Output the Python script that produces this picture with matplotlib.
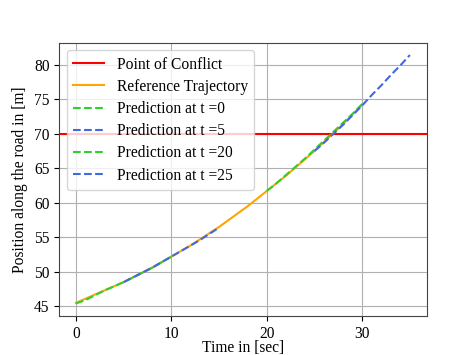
import matplotlib
matplotlib.use("Agg")
import matplotlib.pyplot as plt

# position along the road [m]
conflict_pos = 70.0

ref_t = list(range(0, 31))
ref_pos = [45.5, 46.1, 46.7, 47.3, 47.9, 48.5, 49.2, 49.9, 50.6, 51.4,
           52.2, 53.0, 53.8, 54.7, 55.6, 56.5, 57.5, 58.5, 59.5, 60.6,
           61.7, 62.8, 63.9, 65.1, 66.3, 67.5, 68.8, 70.1, 71.4, 72.8, 74.2]

pred0_t = list(range(0, 11))
pred0_pos = [45.4, 45.9, 46.6, 47.3, 47.9, 48.5, 49.2, 49.9, 50.6, 51.4, 52.2]

pred5_t = list(range(5, 16))
pred5_pos = [48.5, 49.2, 49.9, 50.6, 51.4, 52.2, 53.0, 53.8, 54.6, 55.5, 56.4]

pred20_t = list(range(20, 31))
pred20_pos = [61.7, 62.8, 64.0, 65.2, 66.4, 67.7, 69.0, 70.3, 71.6, 72.9, 74.3]

pred25_t = list(range(25, 36))
pred25_pos = [67.5, 68.7, 70.0, 71.3, 72.7, 74.1, 75.6, 77.0, 78.5, 79.9, 81.4]

plt.rcParams["font.family"] = ["Liberation Serif", "DejaVu Serif"]
plt.rcParams["font.size"] = 11.2

fig, ax = plt.subplots(figsize=(4.74, 3.55), dpi=100)
ax.axhline(conflict_pos, color="red", lw=1.5, label="Point of Conflict")
ax.plot(ref_t, ref_pos, color="orange", lw=1.5, label="Reference Trajectory")
ax.plot(pred0_t, pred0_pos, color="limegreen", ls="--", lw=1.5, label="Prediction at t =0")
ax.plot(pred5_t, pred5_pos, color="royalblue", ls="--", lw=1.5, label="Prediction at t =5")
ax.plot(pred20_t, pred20_pos, color="limegreen", ls="--", lw=1.5, label="Prediction at t =20")
ax.plot(pred25_t, pred25_pos, color="royalblue", ls="--", lw=1.5, label="Prediction at t =25")

ax.set_xlabel("Time in [sec]", labelpad=-1.5)
ax.set_ylabel("Position along the road in [m]")
ax.set_xticks([0, 10, 20, 30])
ax.set_yticks([45, 50, 55, 60, 65, 70, 75, 80])
ax.grid(True)
for s in ax.spines.values():
    s.set_color("#444444")
ax.legend(loc="upper left", labelspacing=0.4)

fig.savefig("out.png", dpi=100)
